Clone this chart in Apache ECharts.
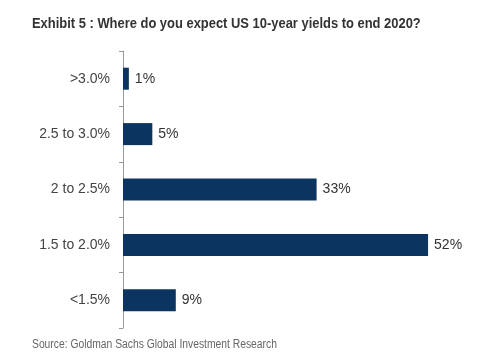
<!DOCTYPE html>
<html><head><meta charset="utf-8">
<script src="https://cdn.jsdelivr.net/npm/echarts@6/dist/echarts.min.js"></script>
<style>html,body{margin:0;padding:0;background:#fff}#c{width:500px;height:362px}</style>
</head><body><div id="c"></div>
<script>
const titleText = 'Exhibit 5 : Where do you expect US 10-year yields to end 2020?';
const sourceText = 'Source: Goldman Sachs Global Investment Research';
const categories = ['>3.0%', '2.5 to 3.0%', '2 to 2.5%', '1.5 to 2.0%', '<1.5%'];
const values = [1, 5, 33, 52, 9];

const chart = echarts.init(document.getElementById('c'), null, {renderer: 'canvas'});
chart.setOption({
  animation: false,
  backgroundColor: '#fff',
  graphic: [{
    type: 'text', x: 32, y: 24, scaleX: 0.862,
    style: {text: titleText, fill: '#333', font: 'bold 15px "Liberation Sans", Arial, sans-serif', textVerticalAlign: 'middle', verticalAlign: 'middle'}
  }, {
    type: 'text', x: 32, y: 345, scaleX: 0.86,
    style: {text: sourceText, fill: '#666', font: '12px "Liberation Sans", Arial, sans-serif', textVerticalAlign: 'middle', verticalAlign: 'middle'}
  }],
  grid: {left: 123, top: 51, width: 352, height: 277, containLabel: false},
  xAxis: {
    type: 'value', min: 0, max: 60, show: false
  },
  yAxis: {
    type: 'category', data: categories, inverse: true,
    axisLine: {show: true, lineStyle: {color: '#999', width: 1}},
    axisTick: {show: true, length: 4, lineStyle: {color: '#999'}},
    axisLabel: {margin: 13, fontSize: 14, color: '#444', fontFamily: '"Liberation Sans", Arial, sans-serif'},
    splitLine: {show: false}
  },
  series: [{
    type: 'bar', data: values, barWidth: 22,
    itemStyle: {color: '#0c3461'},
    label: {show: true, position: 'right', distance: 6, formatter: '{c}%', fontSize: 14, color: '#333', fontFamily: '"Liberation Sans", Arial, sans-serif'}
  }]
});
</script></body></html>
